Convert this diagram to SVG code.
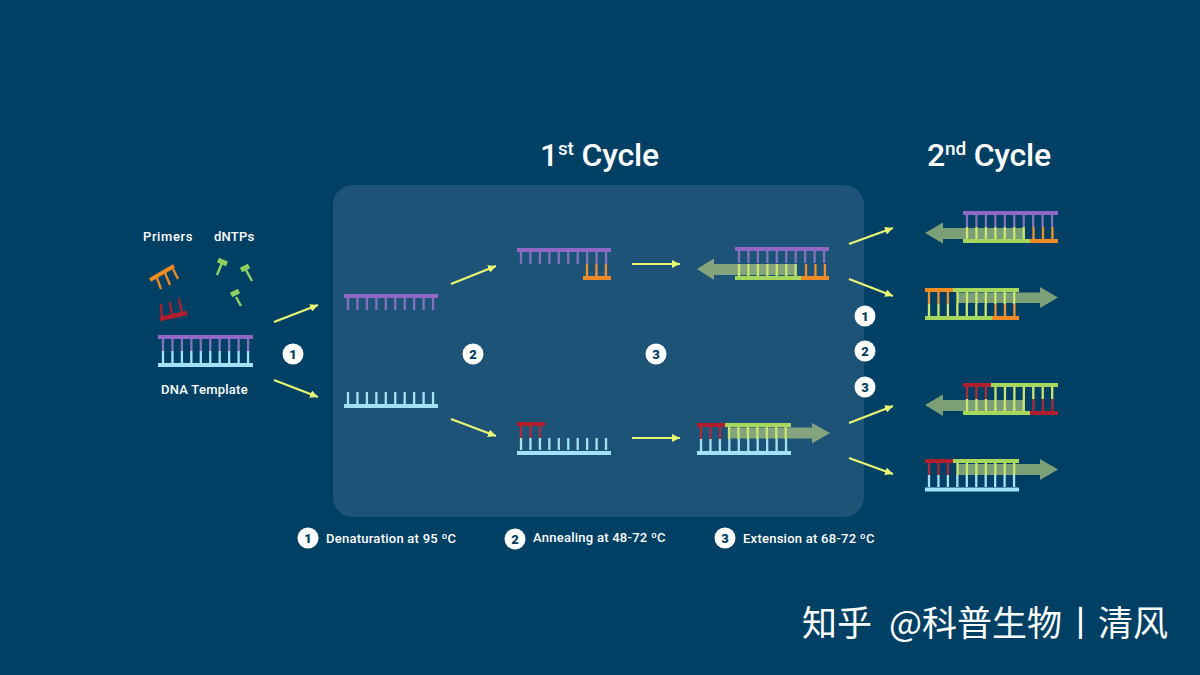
<svg xmlns="http://www.w3.org/2000/svg" xmlns:xlink="http://www.w3.org/1999/xlink" width="1200" height="675" viewBox="0 0 1200 675">
<style>
text{font-family:"Roboto","Liberation Sans",sans-serif;fill:#fff}
.title{font-size:32px;font-weight:500;letter-spacing:-.2px}
.sup{font-size:19px;font-weight:500}
.lab{font-size:13px;font-weight:500;letter-spacing:.25px}
.num{font-size:13px;font-weight:900;fill:#003f63;text-anchor:middle}
.wm{font-family:"Noto Sans CJK SC",sans-serif;font-size:35px;font-weight:400}
.dot{fill:#fff}
.pu{fill:#9068c4}.or{fill:#f08a24}.re{fill:#b01f2e}.bl{fill:#a2e2f7}.gr{fill:#a6d65c}
.spu{stroke:#8272bc}.sor{stroke:#ef9030}.sre{stroke:#a92a38}.sbl{stroke:#a2e2f7}.sgr{stroke:#c8e670}
.t{fill:none;stroke-width:2.3}
.ext{fill:#adc480;opacity:.72}
.flow{fill:none;stroke:#eaf773;stroke-width:2.2;marker-end:url(#h)}
</style>
<defs>
<marker id="h" markerUnits="userSpaceOnUse" markerWidth="9" markerHeight="8" refX="8" refY="4" orient="auto"><path d="M0 0L8 4L0 8z" fill="#eaf773"/></marker>
<path id="t3" d="M0 0v12m9.45-12v12m9.45-12v12"/>
<path id="t7" d="M0 0v12m9.45-12v12m9.45-12v12m9.45-12v12m9.45-12v12m9.45-12v12m9.45-12v12"/>
<path id="t10" d="M0 0v12m9.45-12v12m9.45-12v12m9.45-12v12m9.45-12v12m9.45-12v12m9.45-12v12m9.45-12v12m9.45-12v12m9.45-12v12"/>
</defs>
<rect width="1200" height="675" fill="#004064"/>
<rect id="panel" x="333" y="185" width="531" height="332" rx="20" fill="#1c5376"/>
<text class="title" x="540" y="166">1<tspan class="sup" dy="-11">st</tspan><tspan dy="11"> Cycle</tspan></text>
<text class="title" x="927" y="166">2<tspan class="sup" dy="-11">nd</tspan><tspan dy="11"> Cycle</tspan></text>
<g id="reagents">
<text class="lab" x="143" y="241" style="letter-spacing:.6px">Primers</text>
<text class="lab" x="214" y="241">dNTPs</text>
<g id="primer-orange" stroke="#f08a24" fill="none"><path d="M150 280L174 266" stroke-width="4"/><path d="M157 278L161 289M165 273L170 285M173 269L178 279" stroke-width="2.300"/></g>
<g id="primer-red" stroke="#b01f2e" fill="none"><path d="M160 319L187 313" stroke-width="4.500"/><path d="M161 304L162 318M170 302L172 315M179 299L182 313" stroke-width="2.300"/></g>
<g id="dntps" stroke="#8fcf62" fill="none"><path d="M217 275L222 263M252 281L246 270M241 306L236 297" stroke-width="2.500"/><path d="M218 260L227 264M241 270L249 266M231 295L239 291" stroke-width="5"/></g>
</g>
<g id="dna-template">
<rect class="pu" x="158" y="335" width="95" height="4"/><rect class="bl" x="158" y="363" width="95" height="4"/>
<use href="#t10" x="163" y="339" class="t spu"/><use href="#t10" x="163" y="351" class="t sbl"/>
<text class="lab" x="161" y="394">DNA Template</text>
</g>
<g id="connectors">
<path class="flow" d="M274 322L318 305"/><path class="flow" d="M274 380L318 397"/>
<path class="flow" d="M451 284L496 266"/><path class="flow" d="M451 419L496 436"/>
<path class="flow" d="M632 264L680 264"/><path class="flow" d="M632 438L680 438"/>
<path class="flow" d="M849 244L893 228"/><path class="flow" d="M849 279L893 296"/>
<path class="flow" d="M849 423L893 406"/><path class="flow" d="M849 458L893 474"/>
</g>
<g id="strand-top"><rect class="pu" x="344" y="294" width="94" height="4"/><use href="#t10" x="348" y="298" class="t spu"/></g>
<g id="strand-bottom"><rect class="bl" x="344" y="404" width="94" height="4"/><use href="#t10" x="348" y="392" class="t sbl"/></g>
<g id="anneal-top"><rect class="pu" x="517" y="248" width="94" height="4"/><use href="#t10" x="521" y="252" class="t spu"/><use href="#t3" x="587" y="264" class="t sor"/><rect class="or" x="583" y="276" width="28" height="4"/></g>
<g id="anneal-bottom"><rect class="re" x="517" y="422" width="28" height="4"/><use href="#t3" x="521" y="426" class="t sre"/><use href="#t10" x="521" y="438" class="t sbl"/><rect class="bl" x="517" y="451" width="94" height="4"/></g>
<g id="extend-top"><path class="ext" d="M697 269L714 258.500V264H796V275H714V280z"/><rect class="pu" x="735" y="247" width="94" height="4"/><use href="#t10" x="739" y="251" class="t spu"/><use href="#t7" x="739" y="264" class="t sgr"/><use href="#t3" x="806" y="264" class="t sor"/><rect class="gr" x="735" y="276" width="66" height="4"/><rect class="or" x="801" y="276" width="28" height="4"/></g>
<g id="extend-bottom"><path class="ext" d="M730 427.500H812V423L830 433L812 443.500V438.500H730z"/><rect class="re" x="697" y="423" width="28" height="4"/><rect class="gr" x="725" y="423" width="66" height="4"/><use href="#t3" x="701" y="427" class="t sre"/><use href="#t7" x="729" y="427" class="t sgr"/><use href="#t10" x="701" y="439" class="t sbl"/><rect class="bl" x="697" y="451" width="94" height="4"/></g>
<g id="product-1"><path class="ext" d="M925 233L943 222.500V228H1025V239H943V243.500z"/><rect class="pu" x="963" y="211" width="95" height="4"/><use href="#t10" x="967" y="215" class="t spu"/><use href="#t7" x="967" y="227" class="t sgr"/><use href="#t3" x="1033.500" y="227" class="t sor"/><rect class="gr" x="963" y="239" width="67" height="4"/><rect class="or" x="1030" y="239" width="28" height="4"/></g>
<g id="product-2"><path class="ext" d="M958 292.500H1040V287L1058 297.500L1040 308V303H958z"/><rect class="or" x="925" y="288" width="28" height="4"/><rect class="gr" x="953" y="288" width="66" height="4"/><use href="#t3" x="929" y="292" class="t sor"/><use href="#t7" x="957.500" y="292" class="t sgr"/><use href="#t7" x="929" y="304" class="t sgr"/><use href="#t3" x="995.500" y="304" class="t sor"/><rect class="gr" x="925" y="316" width="67" height="4"/><rect class="or" x="992" y="316" width="27" height="4"/></g>
<g id="product-3"><path class="ext" d="M925 405L943 394.500V400H1025V411H943V416z"/><rect class="re" x="963" y="383" width="28" height="4"/><rect class="gr" x="991" y="383" width="67" height="4"/><use href="#t3" x="967" y="387" class="t sre"/><use href="#t7" x="995.500" y="387" class="t sgr"/><use href="#t7" x="967" y="399" class="t sgr"/><use href="#t3" x="1033.500" y="399" class="t sre"/><rect class="gr" x="963" y="411" width="67" height="4"/><rect class="re" x="1030" y="411" width="28" height="4"/></g>
<g id="product-4"><path class="ext" d="M958 464H1040V459L1058 469.500L1040 480V475H958z"/><rect class="re" x="925" y="459" width="28" height="4"/><rect class="gr" x="953" y="459" width="66" height="4"/><use href="#t3" x="929" y="463" class="t sre"/><use href="#t7" x="957.500" y="463" class="t sgr"/><use href="#t10" x="929" y="475" class="t sbl"/><rect class="bl" x="925" y="487.500" width="94" height="4"/></g>
<g id="step-badges">
<circle class="dot" cx="293" cy="354" r="10.500"/><text class="num" x="293" y="359">1</text>
<circle class="dot" cx="473" cy="354" r="10.500"/><text class="num" x="473" y="359">2</text>
<circle class="dot" cx="656" cy="354" r="10.500"/><text class="num" x="656" y="359">3</text>
<circle class="dot" cx="865" cy="316" r="10.500"/><text class="num" x="865" y="321">1</text>
<circle class="dot" cx="865" cy="351" r="10.500"/><text class="num" x="865" y="356">2</text>
<circle class="dot" cx="865" cy="387" r="10.500"/><text class="num" x="865" y="392">3</text>
</g>
<g id="legend">
<circle class="dot" cx="308" cy="538" r="10.500"/><text class="num" x="308" y="543">1</text>
<text class="lab" x="326" y="543">Denaturation at 95 ºC</text>
<circle class="dot" cx="515" cy="539" r="10.500"/><text class="num" x="515" y="544">2</text>
<text class="lab" x="533" y="542">Annealing at 48-72 ºC</text>
<circle class="dot" cx="725" cy="538" r="10.500"/><text class="num" x="725" y="543">3</text>
<text class="lab" x="743" y="543">Extension at 68-72 ºC</text>
</g>
<text class="wm" y="636"><tspan x="802">知乎</tspan><tspan x="889">@科普生物</tspan><tspan x="1063">丨</tspan><tspan x="1098">清风</tspan></text>
</svg>
